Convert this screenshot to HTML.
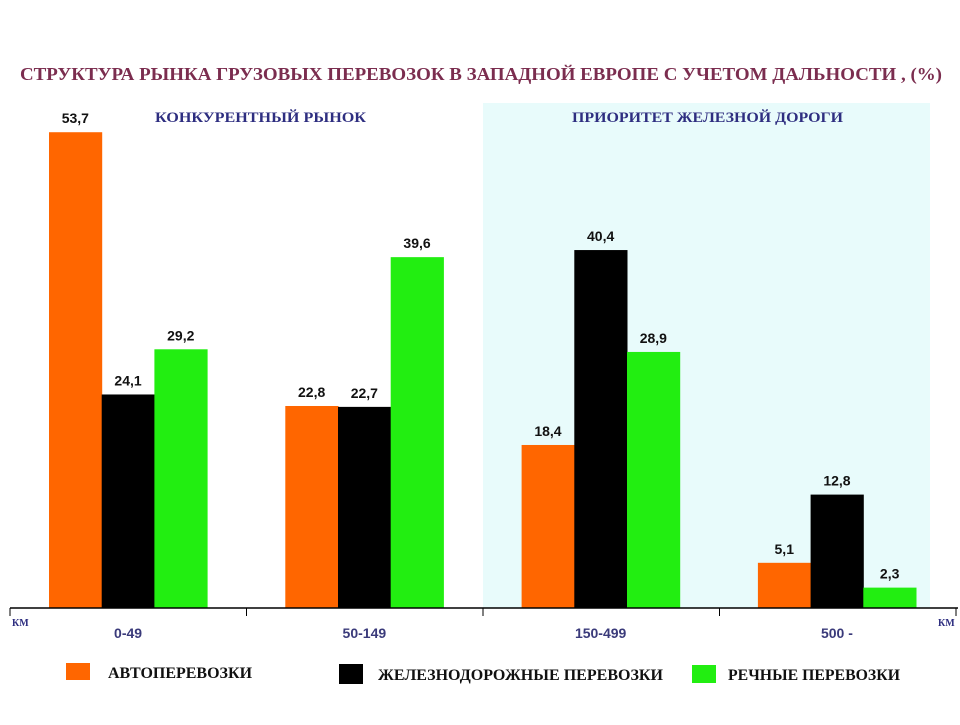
<!DOCTYPE html>
<html><head><meta charset="utf-8"><style>
body{margin:0;background:#fff;}
svg text{font-family:"Liberation Sans",sans-serif;}
</style></head><body>
<svg width="960" height="720">
<rect x="483" y="103" width="447" height="505" fill="#e8fbfb"/>
<text x="20" y="80" textLength="922" lengthAdjust="spacingAndGlyphs" font-weight="bold" font-size="18" fill="#7b2d4f" style="font-family:'Liberation Serif',serif">СТРУКТУРА  РЫНКА  ГРУЗОВЫХ ПЕРЕВОЗОК В ЗАПАДНОЙ ЕВРОПЕ С УЧЕТОМ ДАЛЬНОСТИ , (%)</text>
<text x="155" y="122" textLength="211" lengthAdjust="spacingAndGlyphs" font-weight="bold" font-size="15" fill="#2e2e80" style="font-family:'Liberation Serif',serif">КОНКУРЕНТНЫЙ РЫНОК</text>
<text x="572" y="122" textLength="271" lengthAdjust="spacingAndGlyphs" font-weight="bold" font-size="15" fill="#2e2e80" style="font-family:'Liberation Serif',serif">ПРИОРИТЕТ ЖЕЛЕЗНОЙ ДОРОГИ</text>
<g id="bars"></g>
<line x1="10" y1="608" x2="958" y2="608" stroke="#000" stroke-width="1.5"/>
<g id="ticks"></g>
<text x="12" y="626" font-weight="bold" font-size="10" fill="#2e2e80" style="font-family:'Liberation Serif',serif">КМ</text>
<text x="938" y="626" font-weight="bold" font-size="10" fill="#2e2e80" style="font-family:'Liberation Serif',serif">КМ</text>
<g>
<rect x="66" y="663" width="24" height="17" fill="#ff6600"/>
<text x="108" y="678" textLength="144" lengthAdjust="spacingAndGlyphs" font-weight="bold" font-size="16" fill="#111" style="font-family:'Liberation Serif',serif">АВТОПЕРЕВОЗКИ</text>
<rect x="339" y="664" width="24" height="20" fill="#000"/>
<text x="378" y="680" textLength="285" lengthAdjust="spacingAndGlyphs" font-weight="bold" font-size="16" fill="#111" style="font-family:'Liberation Serif',serif">ЖЕЛЕЗНОДОРОЖНЫЕ ПЕРЕВОЗКИ</text>
<rect x="692" y="665" width="24" height="18" fill="#22ee11"/>
<text x="728" y="680" textLength="172" lengthAdjust="spacingAndGlyphs" font-weight="bold" font-size="16" fill="#111" style="font-family:'Liberation Serif',serif">РЕЧНЫЕ ПЕРЕВОЗКИ</text>
</g>
</svg>
<script>
const categories=["0-49","50-149","150-499","500 -"];
const autoValues=[53.7,22.8,18.4,5.1];
const railValues=[24.1,22.7,40.4,12.8];
const riverValues=[29.2,39.6,28.9,2.3];
const series=[{v:autoValues,c:"#ff6600",n:"auto"},{v:railValues,c:"#000000",n:"rail"},{v:riverValues,c:"#22ee11",n:"river"}];
const NS="http://www.w3.org/2000/svg";
const base=608,scale=8.86,groupW=236.3,x0=49,barW=52.7;
const y=v=>base-v*scale;
const bx=(g,s)=>x0+g*groupW+s*barW;
const bars=document.getElementById('bars');
series.forEach((s,si)=>{s.v.forEach((v,gi)=>{
 const r=document.createElementNS(NS,'rect');
 r.setAttribute('x',bx(gi,si));r.setAttribute('y',y(v));r.setAttribute('width',barW+0.5);r.setAttribute('height',base-y(v));r.setAttribute('fill',s.c);
 
 
 bars.appendChild(r);
 const t=document.createElementNS(NS,'text');
 t.setAttribute('x',bx(gi,si)+barW/2);t.setAttribute('y',y(v)-9);t.setAttribute('text-anchor','middle');
 t.setAttribute('font-weight','bold');t.setAttribute('font-size','14');t.setAttribute('fill','#111');
 t.textContent=String(v).replace('.',',');
 
 
 bars.appendChild(t);
});});
const tk=document.getElementById('ticks');
for(let i=0;i<=4;i++){
 const l=document.createElementNS(NS,'line');const xx=10+i*236.5;
 l.setAttribute('x1',xx);l.setAttribute('x2',xx);l.setAttribute('y1',608);l.setAttribute('y2',616);l.setAttribute('stroke','#000');
 
 
 tk.appendChild(l);
}
categories.forEach((c,i)=>{
 const t=document.createElementNS(NS,'text');
 t.setAttribute('x',bx(i,1)+barW/2);t.setAttribute('y',638);t.setAttribute('text-anchor','middle');
 t.setAttribute('font-weight','bold');t.setAttribute('font-size','14');t.setAttribute('fill','#3a3a7a');
 t.textContent=c;
 
 
 tk.appendChild(t);
});
</script>
</body></html>
